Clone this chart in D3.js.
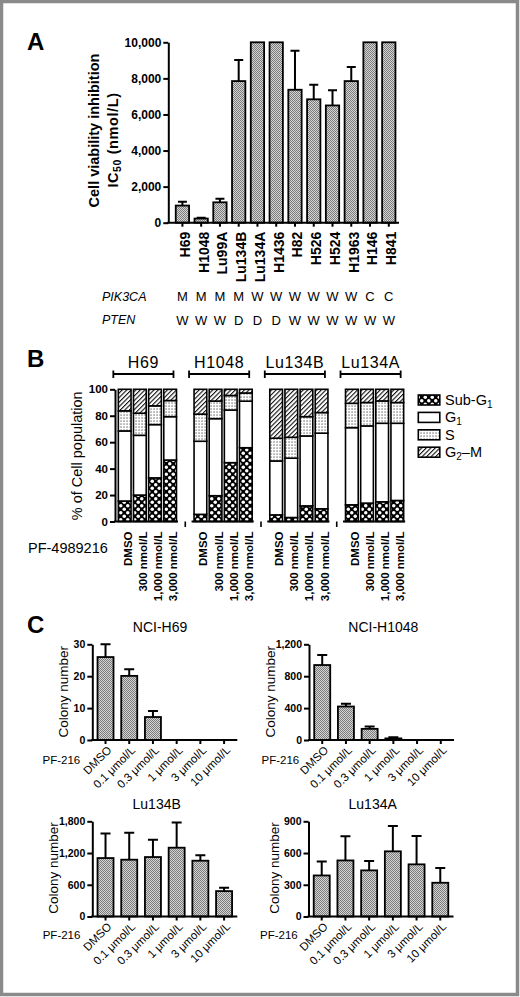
<!DOCTYPE html>
<html><head><meta charset="utf-8">
<script src="https://cdn.jsdelivr.net/npm/d3@7"></script>
<style>body{margin:0;background:#fff}svg{display:block}text{font-family:"Liberation Sans",Arial,Helvetica,sans-serif;fill:#000}</style>
</head><body><svg id="fig" width="520" height="997"></svg>
<script>
// ---------------- DATA ----------------
// Panel A
const cellLines = ["H69","H1048","Lu99A","Lu134B","Lu134A","H1436","H82","H526","H524","H1963","H146","H841"];
const ic50 = [950, 230, 1130, 7850, 10000, 10000, 7370, 6840, 6500, 7850, 10000, 10000];
const ic50Err = [210, 50, 200, 1170, 0, 0, 2160, 810, 840, 780, 0, 0];
const ic50Ticks = [0, 2000, 4000, 6000, 8000, 10000];
const pik3ca = ["M","M","M","M","W","W","W","W","W","W","C","C"];
const pten = ["W","W","W","D","D","D","W","W","W","W","W","W"];

// Panel B
const groupsB = ["H69","H1048","Lu134B","Lu134A"];
const treatmentsB = ["DMSO","300 nmol/L","1,000 nmol/L","3,000 nmol/L"];
const phases = ["subG1","G1","S","G2M"];
const subG1 = [15.5,20,33,46.5, 5.4,19.5,44.5,55.8, 5,3,11.8,9.6, 12.6,13.9,14.9,15.9];
const g1    = [53,45.2,40.3,32.8, 55.3,58.3,39.8,35.2, 40.8,44.9,52.9,57.2, 58.4,58.4,59.4,58.4];
const sPh   = [15.2,16.7,14.2,12.2, 20.5,13.3,11,6.2, 17.2,15.8,14.6,15.6, 18.4,17.7,16.9,15.7];
const g2m   = [16.3,18.1,12.5,8.5, 18.8,8.9,4.7,2.8, 37,36.3,20.7,17.6, 10.6,10,8.8,10];
const pctTicks = [0,20,40,60,80,100];

// Panel C
const doses = ["DMSO","0.1 \u03bcmol/L","0.3 \u03bcmol/L","1 \u03bcmol/L","3 \u03bcmol/L","10 \u03bcmol/L"];
const h69Col = [26, 20.1, 7.2, 0, 0, 0];
const h69Err = [4, 2.1, 1.9, 0, 0, 0];
const h1048Col = [940, 420, 140, 20, 0, 0];
const h1048Err = [126, 34, 30, 13, 0, 0];
const lu134bCol = [1105, 1074, 1124, 1301, 1055, 480];
const lu134bErr = [462, 511, 329, 474, 101, 63];
const lu134aCol = [388, 530, 436, 616, 493, 319];
const lu134aErr = [133, 228, 88, 240, 268, 139];
const h69Ticks = [0,10,20,30];
const h1048Ticks = [0,400,800,1200];
const lu134bTicks = [0,600,1200,1800];
const lu134aTicks = [0,300,600,900];

// ---------------- DRAW ----------------
const svg = d3.select("#fig");
const defs = svg.append("defs");

// patterns
(function(){
  const p = defs.append("pattern").attr("id","pGray").attr("patternUnits","userSpaceOnUse").attr("width",2).attr("height",2);
  p.append("rect").attr("width",2).attr("height",2).attr("fill","#d4d4d4");
  p.append("rect").attr("width",1).attr("height",1).attr("fill","#7c7c7c");
  p.append("rect").attr("x",1).attr("y",1).attr("width",1).attr("height",1).attr("fill","#7c7c7c");

  const c = defs.append("pattern").attr("id","pCross").attr("patternUnits","userSpaceOnUse").attr("width",7).attr("height",7);
  c.append("rect").attr("width",7).attr("height",7).attr("fill","#000");
  c.append("circle").attr("cx",1.75).attr("cy",1.75).attr("r",1.75).attr("fill","#fff");
  c.append("circle").attr("cx",5.25).attr("cy",5.25).attr("r",1.75).attr("fill","#fff");

  const s = defs.append("pattern").attr("id","pDots").attr("patternUnits","userSpaceOnUse").attr("width",3).attr("height",3);
  s.append("rect").attr("width",3).attr("height",3).attr("fill","#fff");
  s.append("rect").attr("x",0.5).attr("y",0.5).attr("width",1.1).attr("height",1.1).attr("fill","#333");

  const h = defs.append("pattern").attr("id","pHatch").attr("patternUnits","userSpaceOnUse").attr("width",3.2).attr("height",3.2).attr("patternTransform","rotate(45)");
  h.append("rect").attr("width",3.2).attr("height",3.2).attr("fill","#fff");
  h.append("rect").attr("width",1.1).attr("height",3.2).attr("fill","#111");
})();
const phaseFill = {subG1:"url(#pCross)", G1:"#fff", S:"url(#pDots)", G2M:"url(#pHatch)"};

// frame
svg.append("rect").attr("x",0).attr("y",0).attr("width",520).attr("height",997).attr("fill","#fff");
svg.append("rect").attr("x",1.5).attr("y",1.5).attr("width",516).attr("height",993).attr("fill","none").attr("stroke","#8a8a8a").attr("stroke-width",3.5);

function styleAxis(g, fs){
  g.selectAll("path,line").attr("stroke","#000").attr("stroke-width",2);
  g.selectAll("text").attr("font-size",fs).attr("font-weight","bold").attr("fill","#000")
    .attr("font-family",'"Liberation Sans", Arial, sans-serif');
}
function panelLetter(t,x,y){
  svg.append("text").attr("x",x).attr("y",y).attr("font-size",24).attr("font-weight","bold").text(t);
}

// ===== Panel A =====
panelLetter("A",27,50);
const xA = d3.scaleBand().domain(cellLines).range([172,399.2]).paddingInner(0.29).paddingOuter(0.2);
const yA = d3.scaleLinear().domain([0,10000]).range([222.7,42.3]);
const gA = svg.append("g");
gA.selectAll("rect.bar").data(cellLines).join("rect").attr("class","bar")
  .attr("x",d=>xA(d)).attr("width",xA.bandwidth())
  .attr("y",(d,i)=>yA(ic50[i])).attr("height",(d,i)=>yA(0)-yA(ic50[i]))
  .attr("fill","url(#pGray)").attr("stroke","#000").attr("stroke-width",1.8);
const errA = cellLines.map((d,i)=>({d,i})).filter(o=>ic50Err[o.i]>0);
gA.selectAll("path.err").data(errA).join("path").attr("class","err")
  .attr("d",o=>{const cx=xA(o.d)+xA.bandwidth()/2, y0=yA(ic50[o.i]), y1=yA(ic50[o.i]+ic50Err[o.i]);
    return `M${cx},${y0}V${y1}M${cx-4.5},${y1}H${cx+4.5}`;})
  .attr("stroke","#000").attr("stroke-width",2).attr("fill","none");
const gAy = svg.append("g").attr("transform","translate(168.3,0)")
  .call(d3.axisLeft(yA).tickValues(ic50Ticks).tickFormat(d3.format(",")).tickSize(5).tickSizeOuter(0).tickPadding(2));
styleAxis(gAy,12);
svg.append("line").attr("x1",167.3).attr("x2",399).attr("y1",222.7).attr("y2",222.7).attr("stroke","#000").attr("stroke-width",2);
const gAx = svg.append("g").attr("transform","translate(0,222.7)").call(d3.axisBottom(xA).tickSize(4).tickSizeOuter(0));
gAx.select(".domain").remove();
styleAxis(gAx,14);
gAx.selectAll("text").attr("text-anchor","end").attr("x",-9).attr("y",0).attr("dy","0.35em")
  .attr("transform","translate(2.5,0) rotate(-90)");
// y label
svg.append("text").attr("transform","translate(94,130.5) rotate(-90)").attr("text-anchor","middle").attr("dy","0.35em")
  .attr("font-size",14.5).attr("font-weight","bold").text("Cell viability inhibition");
const l2 = svg.append("text").attr("transform","translate(113,140) rotate(-90)").attr("text-anchor","middle").attr("dy","0.35em")
  .attr("font-size",14.5).attr("font-weight","bold").attr("letter-spacing",0.6);
l2.append("tspan").text("IC");
l2.append("tspan").attr("font-size",10.5).attr("dy",3).text("50");
l2.append("tspan").attr("dy",-3).text(" (nmol/L)");
// mutation rows
svg.append("text").attr("x",102).attr("y",296.7).attr("dy","0.35em").attr("font-size",12.5).attr("font-style","italic").text("PIK3CA");
svg.append("text").attr("x",102).attr("y",320).attr("dy","0.35em").attr("font-size",12.5).attr("font-style","italic").text("PTEN");
svg.append("g").selectAll("text").data(pik3ca).join("text")
  .attr("x",(d,i)=>xA(cellLines[i])+xA.bandwidth()/2).attr("y",296.7).attr("dy","0.35em")
  .attr("text-anchor","middle").attr("font-size",13).text(d=>d);
svg.append("g").selectAll("text").data(pten).join("text")
  .attr("x",(d,i)=>xA(cellLines[i])+xA.bandwidth()/2).attr("y",320).attr("dy","0.35em")
  .attr("text-anchor","middle").attr("font-size",13).text(d=>d);

// ===== Panel B =====
panelLetter("B",27,367);
const slots = [];
groupsB.forEach((g,gi)=>{ treatmentsB.forEach(t=>slots.push(g+"|"+t)); if(gi<groupsB.length-1) slots.push("gap"+gi); });
const xB = d3.scaleBand().domain(slots).range([115,407]).paddingInner(0.16).paddingOuter(0.22);
const yB = d3.scaleLinear().domain([0,100]).range([521.5,389.3]);
const rowsB = [];
groupsB.forEach((g,gi)=>treatmentsB.forEach((t,ti)=>{
  const k = gi*4+ti;
  rowsB.push({key:g+"|"+t, group:g, treat:t, subG1:subG1[k], G1:g1[k], S:sPh[k], G2M:g2m[k]});
}));
const stackB = d3.stack().keys(phases)(rowsB);
const gB = svg.append("g");
stackB.forEach(layer=>{
  gB.append("g").selectAll("rect").data(layer).join("rect")
    .attr("x",d=>xB(d.data.key)).attr("width",xB.bandwidth())
    .attr("y",d=>yB(d[1])).attr("height",d=>yB(d[0])-yB(d[1]))
    .attr("fill",phaseFill[layer.key]).attr("stroke","#000").attr("stroke-width",1.6);
});
const gBy = svg.append("g").attr("transform","translate(115,0)")
  .call(d3.axisLeft(yB).tickValues(pctTicks).tickSize(5).tickSizeOuter(0).tickPadding(2));
styleAxis(gBy,11.5);
// x axis segments and gap ticks
groupsB.forEach((g,gi)=>{
  const first = xB(g+"|"+treatmentsB[0]), last = xB(g+"|"+treatmentsB[3])+xB.bandwidth();
  svg.append("line").attr("x1",gi===0?114:first-2.5).attr("x2",last+1.5).attr("y1",521.5).attr("y2",521.5)
    .attr("stroke","#000").attr("stroke-width",2);
  // bracket
  const bx1 = first-5, bx2 = last-3;
  svg.append("path").attr("d",`M${bx1},370.5V378M${bx1},374H${bx2}M${bx2},370.5V378`)
    .attr("stroke","#000").attr("stroke-width",1.8).attr("fill","none");
  svg.append("text").attr("x",(bx1+bx2)/2).attr("y",368.3).attr("text-anchor","middle")
    .attr("font-size",16).attr("letter-spacing",0.6).text(g);
  if(gi<groupsB.length-1){
    const gx = xB("gap"+gi)+xB.bandwidth()/2;
    svg.append("line").attr("x1",gx).attr("x2",gx).attr("y1",521.5).attr("y2",527).attr("stroke","#000").attr("stroke-width",1.6);
  }
});
svg.append("g").selectAll("text").data(rowsB).join("text")
  .attr("transform",d=>`translate(${xB(d.key)+xB.bandwidth()/2+3},531.5) rotate(-90)`)
  .attr("text-anchor","end").attr("dy","0.35em").attr("font-size",11.5).attr("font-weight","bold").text(d=>d.treat);
svg.append("text").attr("transform","translate(76.7,455.8) rotate(-90)").attr("text-anchor","middle").attr("dy","0.35em")
  .attr("font-size",14.5).text("% of Cell population");
svg.append("text").attr("x",28).attr("y",548).attr("dy","0.35em").attr("font-size",14.5).text("PF-4989216");
// legend
const legendB = [
  {k:"subG1", main:"Sub-G", sub:"1", after:""},
  {k:"G1", main:"G", sub:"1", after:""},
  {k:"S", main:"S", sub:"", after:""},
  {k:"G2M", main:"G", sub:"2", after:"\u2013M"}
];
legendB.forEach((l,i)=>{
  const y0 = 395 + i*17.4;
  svg.append("rect").attr("x",418.3).attr("y",y0).attr("width",21.5).attr("height",10)
    .attr("fill",phaseFill[l.k]).attr("stroke","#000").attr("stroke-width",1.6);
  const t = svg.append("text").attr("x",445).attr("y",y0+5).attr("dy","0.35em").attr("font-size",14.5);
  t.append("tspan").text(l.main);
  if(l.sub){ t.append("tspan").attr("font-size",10).attr("dy",3).text(l.sub); }
  if(l.after){ t.append("tspan").attr("dy",-3).text(l.after); }
});

// ===== Panel C =====
panelLetter("C",27,633);
const panelsC = [
  {title:"NCI-H69", vals:h69Col, errs:h69Err, ticks:h69Ticks, fmt:d3.format("d")},
  {title:"NCI-H1048", vals:h1048Col, errs:h1048Err, ticks:h1048Ticks, fmt:d3.format(",")},
  {title:"Lu134B", vals:lu134bCol, errs:lu134bErr, ticks:lu134bTicks, fmt:d3.format(",")},
  {title:"Lu134A", vals:lu134aCol, errs:lu134aErr, ticks:lu134aTicks, fmt:d3.format(",")}
];
const layoutC = [
  {ax:92.3, top:644.3, base:740, tx:160, ty:627.3, lx:63.3, ly:691.7, px:42.5, py:759.5},
  {ax:309, top:644.3, base:740, tx:383.3, ty:627.3, lx:270, ly:691.7, px:261.5, py:759.5},
  {ax:92.3, top:821.3, base:916.5, tx:156.7, ty:804, lx:53, ly:868, px:42.7, py:935},
  {ax:308.5, top:821.3, base:916.5, tx:372.7, ty:804, lx:274, ly:868, px:260, py:935}
];
panelsC.forEach((p,pi)=>{
  const L = layoutC[pi];
  const x = d3.scaleBand().domain(doses).range([L.ax, L.ax+145]).paddingInner(0.325).paddingOuter(0.22);
  const y = d3.scaleLinear().domain([0, p.ticks[p.ticks.length-1]]).range([L.base, L.top]);
  const g = svg.append("g");
  g.selectAll("rect").data(doses.map((d,i)=>({d,i})).filter(o=>p.vals[o.i]>0)).join("rect")
    .attr("x",o=>x(o.d)).attr("width",x.bandwidth())
    .attr("y",o=>y(p.vals[o.i])).attr("height",o=>y(0)-y(p.vals[o.i]))
    .attr("fill","url(#pGray)").attr("stroke","#000").attr("stroke-width",1.8);
  g.selectAll("path").data(doses.map((d,i)=>({d,i})).filter(o=>p.errs[o.i]>0)).join("path")
    .attr("d",o=>{const cx=x(o.d)+x.bandwidth()/2, y0=y(p.vals[o.i]), y1=y(p.vals[o.i]+p.errs[o.i]);
      return `M${cx},${y0}V${y1}M${cx-5},${y1}H${cx+5}`;})
    .attr("stroke","#000").attr("stroke-width",2).attr("fill","none");
  const gy = svg.append("g").attr("transform",`translate(${L.ax},0)`)
    .call(d3.axisLeft(y).tickValues(p.ticks).tickFormat(p.fmt).tickSize(5).tickSizeOuter(0).tickPadding(2));
  styleAxis(gy,10.5);
  svg.append("line").attr("x1",L.ax-1).attr("x2",L.ax+145).attr("y1",L.base).attr("y2",L.base).attr("stroke","#000").attr("stroke-width",2);
  const gx = svg.append("g").attr("transform",`translate(0,${L.base})`).call(d3.axisBottom(x).tickSize(4).tickSizeOuter(0));
  gx.select(".domain").remove();
  styleAxis(gx,11.5);
  gx.selectAll("text").attr("font-weight","normal").attr("text-anchor","end").attr("y",0).attr("dy","0.35em")
    .attr("transform","translate(4,8) rotate(-45)");
  svg.append("text").attr("x",L.tx).attr("y",L.ty).attr("dy","0.35em").attr("text-anchor","middle").attr("font-size",14).text(p.title);
  svg.append("text").attr("transform",`translate(${L.lx},${L.ly}) rotate(-90)`).attr("text-anchor","middle").attr("dy","0.35em")
    .attr("font-size",13.5).text("Colony number");
  svg.append("text").attr("x",L.px).attr("y",L.py).attr("dy","0.35em").attr("font-size",11.5).text("PF-216");
});
</script></body></html>
